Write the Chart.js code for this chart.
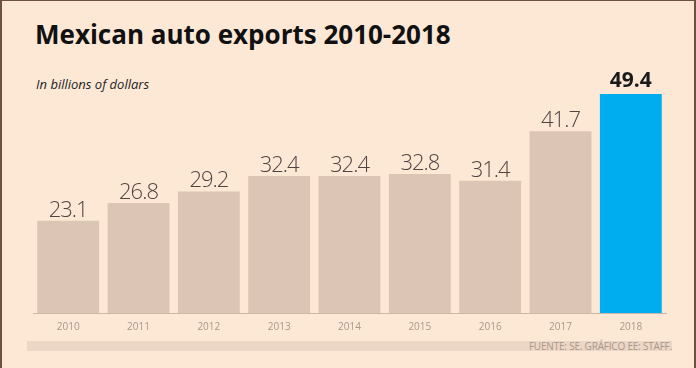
<!DOCTYPE html>
<html>
<head>
    <title>Mexican auto exports 2010-2018</title>
    <style>
        body {
            margin: 0;
            width: 696px;
            height: 368px;
            overflow: hidden;
            background: #fde8d6;
            font-family: "Open Sans", Arial, sans-serif;
        }
        #frame {
            position: absolute;
            left: 0; top: 0;
            width: 692px; height: 367px;
            border-left: 2px solid #6e5040;
            border-right: 2px solid #6e5040;
            border-top: 1px solid #6e5040;
        }
        h1 {
            position: absolute;
            left: 35px; top: 16px;
            margin: 0;
            font-size: 26px;
            font-weight: 700;
            color: #111;
        }
        #sub {
            position: absolute;
            left: 36px; top: 75px;
            font-size: 13px;
            font-style: italic;
            color: #222;
        }
        #source {
            position: absolute;
            left: 27px; top: 341px;
            width: 645px; height: 10px;
            background: #ecd6c6;
            text-align: right;
            font-size: 10px;
            line-height: 10px;
            letter-spacing: -0.2px;
            color: #a8988a;
        }
        canvas { position: absolute; left: 0; top: 0; }
    </style>
</head>
<body>
    <script src="https://cdn.jsdelivr.net/npm/chart.js@4"></script>
    <div id="frame"></div>
    <h1>Mexican auto exports 2010-2018</h1>
    <div id="sub">In billions of dollars</div>
    <div id="source">FUENTE: SE. GRÁFICO EE: STAFF.</div>
    <canvas id="myChart" width="696" height="368"></canvas>

    <script>
        const years = ['2010', '2011', '2012', '2013', '2014', '2015', '2016', '2017', '2018'];
        const exportsBn = [23.1, 26.8, 29.2, 32.4, 32.4, 32.8, 31.4, 41.7, 49.4];
        const valueLabels = ['23.1', '26.8', '29.2', '32.4', '32.4', '32.8', '31.4', '41.7', '49.4'];

        const barColors = years.map((y, i) => i === years.length - 1 ? '#00aeef' : '#dcc5b5');

        // value above each bar, last one bold
        const valuePlugin = {
            id: 'values',
            afterDatasetsDraw(chart) {
                const ctx = chart.ctx;
                const meta = chart.getDatasetMeta(0);
                ctx.save();
                ctx.textAlign = 'center';
                ctx.textBaseline = 'alphabetic';
                meta.data.forEach((bar, i) => {
                    const last = i === meta.data.length - 1;
                    if (last) {
                        ctx.font = '700 21px "Open Sans"';
                        ctx.fillStyle = '#1a1a1a';
                        ctx.letterSpacing = '0px';
                        ctx.fillText(valueLabels[i], bar.x, bar.y - 7);
                    } else {
                        ctx.font = '300 22px "Open Sans"';
                        ctx.fillStyle = '#4e4440';
                        ctx.letterSpacing = '-1px';
                        ctx.fillText(valueLabels[i], bar.x, bar.y - 4);
                    }
                });
                ctx.restore();
            }
        };

        new Chart('myChart', {
            type: 'bar',
            data: {
                labels: years,
                datasets: [{
                    data: exportsBn,
                    backgroundColor: barColors,
                    barPercentage: 0.88,
                    categoryPercentage: 1
                }]
            },
            options: {
                responsive: false,
                animation: false,
                layout: { padding: { left: 33, right: 30, top: 67, bottom: 35 } },
                plugins: {
                    legend: { display: false },
                    tooltip: { enabled: false }
                },
                scales: {
                    x: {
                        grid: { display: false },
                        border: { color: '#c8b8a8', width: 1 },
                        ticks: {
                            padding: 0,
                            color: '#a8988a',
                            font: { family: 'Open Sans', size: 10 },
                            maxRotation: 0
                        }
                    },
                    y: { display: false, min: 4, max: 55 }
                }
            },
            plugins: [valuePlugin]
        });
    </script>
</body>
</html>
